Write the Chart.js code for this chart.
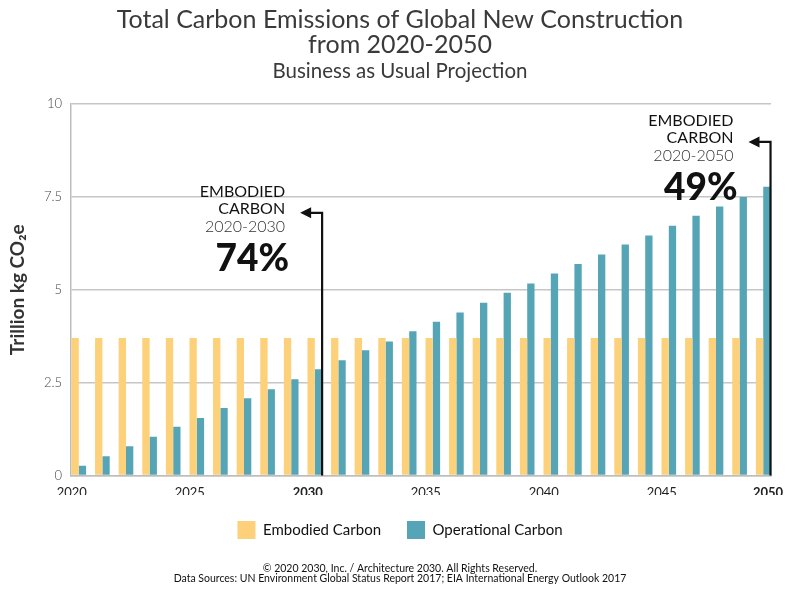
<!DOCTYPE html>
<html>
<head>
<meta charset="utf-8">
<script src="https://cdn.jsdelivr.net/npm/chart.js@4.4.1/dist/chart.umd.min.js"></script>
<style>
  html, body { margin: 0; padding: 0; background: #ffffff; }
  #wrap { width: 800px; height: 597px; position: relative; }
</style>
</head>
<body>
<div id="wrap"><canvas id="c"></canvas></div>
<script>
// ---- data ----
const years = [2020, 2021, 2022, 2023, 2024, 2025, 2026, 2027, 2028, 2029,
               2030, 2031, 2032, 2033, 2034, 2035, 2036, 2037, 2038, 2039,
               2040, 2041, 2042, 2043, 2044, 2045, 2046, 2047, 2048, 2049];
const embodied = [3.7, 3.7, 3.7, 3.7, 3.7, 3.7, 3.7, 3.7, 3.7, 3.7,
                  3.7, 3.7, 3.7, 3.7, 3.7, 3.7, 3.7, 3.7, 3.7, 3.7,
                  3.7, 3.7, 3.7, 3.7, 3.7, 3.7, 3.7, 3.7, 3.7, 3.7];
const operational = [0.26, 0.52, 0.79, 1.04, 1.31, 1.55, 1.82, 2.08, 2.32, 2.59,
                     2.86, 3.10, 3.37, 3.61, 3.88, 4.14, 4.39, 4.65, 4.92, 5.17,
                     5.44, 5.69, 5.95, 6.22, 6.46, 6.72, 6.99, 7.24, 7.50, 7.77];
const seriesNames = ['Embodied Carbon', 'Operational Carbon'];
const tickYears = [2020, 2025, 2030, 2035, 2040, 2045, 2050];
const boldYears = [2030, 2050];
const yTicks = [0, 2.5, 5, 7.5, 10];
const callouts = [
  { year: 2030, level: 7.07, title: ['EMBODIED', 'CARBON'], range: '2020-2030', share: '74%' },
  { year: 2049, level: 8.98, title: ['EMBODIED', 'CARBON'], range: '2020-2050', share: '49%' }
];
const footerLines = [
  '\u00A9 2020 2030, Inc. / Architecture 2030. All Rights Reserved.',
  'Data Sources: UN Environment Global Status Report 2017; EIA International Energy Outlook 2017'
];

const FONT = 'Lato, "Open Sans", sans-serif';

const calloutPlugin = {
  id: 'callouts',
  afterDraw(chart) {
    const { ctx } = chart;
    const y = chart.scales.y;
    const meta = chart.getDatasetMeta(1);
    callouts.forEach(c => {
      const i = years.indexOf(c.year);
      const bar = meta.data[i];
      const lx = bar.x + bar.width / 2;
      const ay = y.getPixelForValue(c.level);
      const by = y.getPixelForValue(0);
      ctx.save();
      ctx.strokeStyle = '#111';
      ctx.lineWidth = 2.2;
      ctx.beginPath();
      ctx.moveTo(lx, by);
      ctx.lineTo(lx, ay);
      ctx.lineTo(lx - 12, ay);
      ctx.stroke();
      ctx.fillStyle = '#111';
      ctx.beginPath();
      ctx.moveTo(lx - 22, ay);
      ctx.lineTo(lx - 11, ay - 5.5);
      ctx.lineTo(lx - 11, ay + 5.5);
      ctx.closePath();
      ctx.fill();
      ctx.textAlign = 'right';
      ctx.textBaseline = 'middle';
      ctx.font = '16px ' + FONT;
      ctx.fillText(c.title[0], lx - 37, ay - 21);
      ctx.fillText(c.title[1], lx - 37, ay - 3.6);
      ctx.font = '300 16px ' + FONT;
      ctx.fillStyle = '#333';
      ctx.fillText(c.range, lx - 37, ay + 14);
      ctx.font = '900 37px ' + FONT;
      ctx.fillStyle = '#111';
      ctx.fillText(c.share, lx - 33, ay + 46);
      ctx.restore();
    });
    // footer
    ctx.save();
    ctx.fillStyle = '#111';
    ctx.textAlign = 'center';
    ctx.textBaseline = 'middle';
    ctx.font = '10.5px ' + FONT;
    ctx.fillText(footerLines[0], chart.width / 2, 569);
    ctx.fillText(footerLines[1], chart.width / 2, 579);
    ctx.restore();
  }
};

new Chart(document.getElementById('c'), {
  type: 'bar',
  data: {
    datasets: [
      {
        label: seriesNames[0],
        data: years.map((yr, i) => ({ x: yr, y: embodied[i] })),
        backgroundColor: '#FDD07A',
        borderWidth: 0
      },
      {
        label: seriesNames[1],
        data: years.map((yr, i) => ({ x: yr, y: operational[i] })),
        backgroundColor: '#55A5B7',
        borderWidth: 0
      }
    ]
  },
  plugins: [calloutPlugin],
  options: {
    responsive: true,
    maintainAspectRatio: false,
    animation: false,
    categoryPercentage: 0.62,
    barPercentage: 1.0,
    layout: { padding: { left: 0, right: 0, top: 0, bottom: 48 } },
    plugins: {
      title: {
        display: true,
        text: ['Total Carbon Emissions of Global New Construction', 'from 2020-2050'],
        color: '#3a3a3a',
        font: { family: FONT, size: 25, weight: 'normal', lineHeight: 1.0 },
        padding: { top: 7, bottom: 0 }
      },
      subtitle: {
        display: true,
        text: 'Business as Usual Projection',
        color: '#3a3a3a',
        font: { family: FONT, size: 20.5, weight: 'normal', lineHeight: 1.1 },
        padding: { top: 3, bottom: 21.45 }
      },
      legend: {
        position: 'bottom',
        labels: {
          boxWidth: 18,
          boxHeight: 18,
          padding: 26,
          color: '#111',
          font: { family: FONT, size: 15 }
        }
      },
      tooltip: { enabled: false }
    },
    scales: {
      x: {
        type: 'linear',
        offset: false,
        bounds: 'data',
        min: years[0] - 0.33,
        max: years[years.length - 1] + 0.33,
        grid: { display: false, drawTicks: false },
        border: { display: true, color: '#bdbdbd', width: 1.5 },
        afterBuildTicks: s => {
          s.ticks = tickYears.map(v => ({ value: Math.min(v, s.max + 0.17) }));
        },
        afterFit: s => {
          s.height = 19.5;
          s.paddingLeft = 0;
          s.paddingRight = 29;
        },
        ticks: {
          autoSkip: false,
          maxRotation: 0,
          minRotation: 0,
          includeBounds: false,
          padding: 10,
          labelOffset: -7,
          color: '#222',
          callback: (v, i) => String(tickYears[i]),
          font: ctx => ({
            family: FONT,
            size: 13,
            weight: boldYears.includes(tickYears[ctx.index]) ? 'bold' : 'normal'
          })
        }
      },
      y: {
        min: 0,
        max: 10,
        afterBuildTicks: s => { s.ticks = yTicks.map(v => ({ value: v })); },
        afterFit: s => { s.width = 71; },
        grid: { color: '#c6c6c6', lineWidth: 1.5, drawTicks: false },
        border: { display: true, color: '#bdbdbd', width: 1.5 },
        ticks: {
          padding: 9,
          color: '#444',
          font: { family: FONT, size: 13, weight: 300 }
        },
        title: {
          display: true,
          text: 'Trillion kg CO\u2082e',
          color: '#333',
          font: { family: FONT, size: 19, weight: 'bold', lineHeight: 1.2 },
          padding: { top: 6, bottom: 0 }
        }
      }
    }
  }
});
</script>
</body>
</html>
